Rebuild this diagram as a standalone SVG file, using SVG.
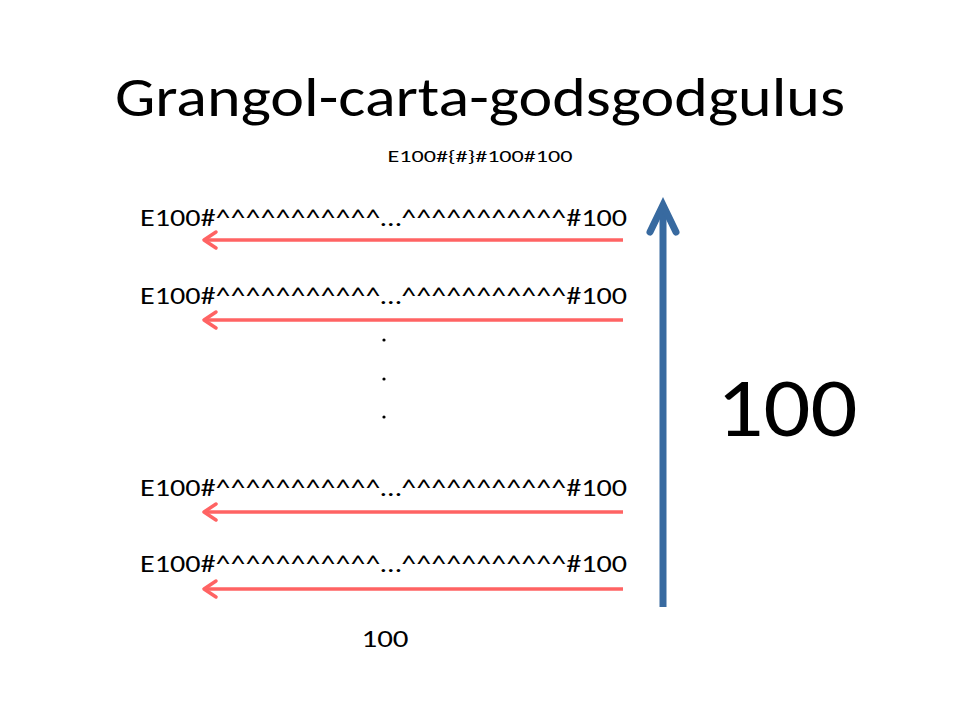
<svg xmlns="http://www.w3.org/2000/svg" width="960" height="720" viewBox="0 0 960 720">
<defs>
<style>
text{font-family:Carlito,"Open Sans","Liberation Sans",sans-serif;fill:#000}
.row{font-size:24px}
.red{stroke:#FF6363;stroke-width:3.5;fill:none}
.rh{stroke:#FF6363;stroke-width:3.5;fill:none;stroke-linecap:round;stroke-linejoin:round}
</style>
</defs>
<rect width="960" height="720" fill="#fff"/>
<g id="title"><text x="480" y="116" font-size="56" text-anchor="middle" textLength="730" lengthAdjust="spacingAndGlyphs">Grangol-carta-godsgodgulus</text></g>
<g id="subtitle"><text x="480" y="162" font-size="16" text-anchor="middle" textLength="185" lengthAdjust="spacingAndGlyphs">E100#{#}#100#100</text></g>
<g id="row1"><text class="row" x="140" y="226" textLength="487" lengthAdjust="spacingAndGlyphs">E100#^^^^^^^^^^^…^^^^^^^^^^^#100</text></g>
<g id="row2"><text class="row" x="140" y="304" textLength="487" lengthAdjust="spacingAndGlyphs">E100#^^^^^^^^^^^…^^^^^^^^^^^#100</text></g>
<g id="dots">
<circle cx="384" cy="340" r="1.6"/><circle cx="384" cy="379" r="1.6"/><circle cx="384" cy="417" r="1.6"/>
</g>
<g id="row3"><text class="row" x="140" y="496" textLength="487" lengthAdjust="spacingAndGlyphs">E100#^^^^^^^^^^^…^^^^^^^^^^^#100</text></g>
<g id="row4"><text class="row" x="140" y="572" textLength="487" lengthAdjust="spacingAndGlyphs">E100#^^^^^^^^^^^…^^^^^^^^^^^#100</text></g>
<g id="label100big"><text x="787" y="436" font-size="84" text-anchor="middle" textLength="141" lengthAdjust="spacingAndGlyphs">100</text></g>
<g id="label100"><text x="385" y="647" font-size="24" text-anchor="middle" textLength="47" lengthAdjust="spacingAndGlyphs">100</text></g>
<g id="connectors">
<line class="red" x1="623" y1="240" x2="204" y2="240"/><polyline class="rh" points="216,232 204,240 216,248"/>
<line class="red" x1="623" y1="320" x2="204" y2="320"/><polyline class="rh" points="216,312 204,320 216,328"/>
<line class="red" x1="623" y1="512" x2="204" y2="512"/><polyline class="rh" points="216,504 204,512 216,520"/>
<line class="red" x1="623" y1="589" x2="204" y2="589"/><polyline class="rh" points="216,581 204,589 216,597"/>
<line x1="663" y1="607" x2="663" y2="205" stroke="#386AA0" stroke-width="7"/>
<polyline points="650,232 663,205 676,232" stroke="#386AA0" stroke-width="7" fill="none" stroke-linecap="round" stroke-linejoin="miter"/>
</g>
</svg>
